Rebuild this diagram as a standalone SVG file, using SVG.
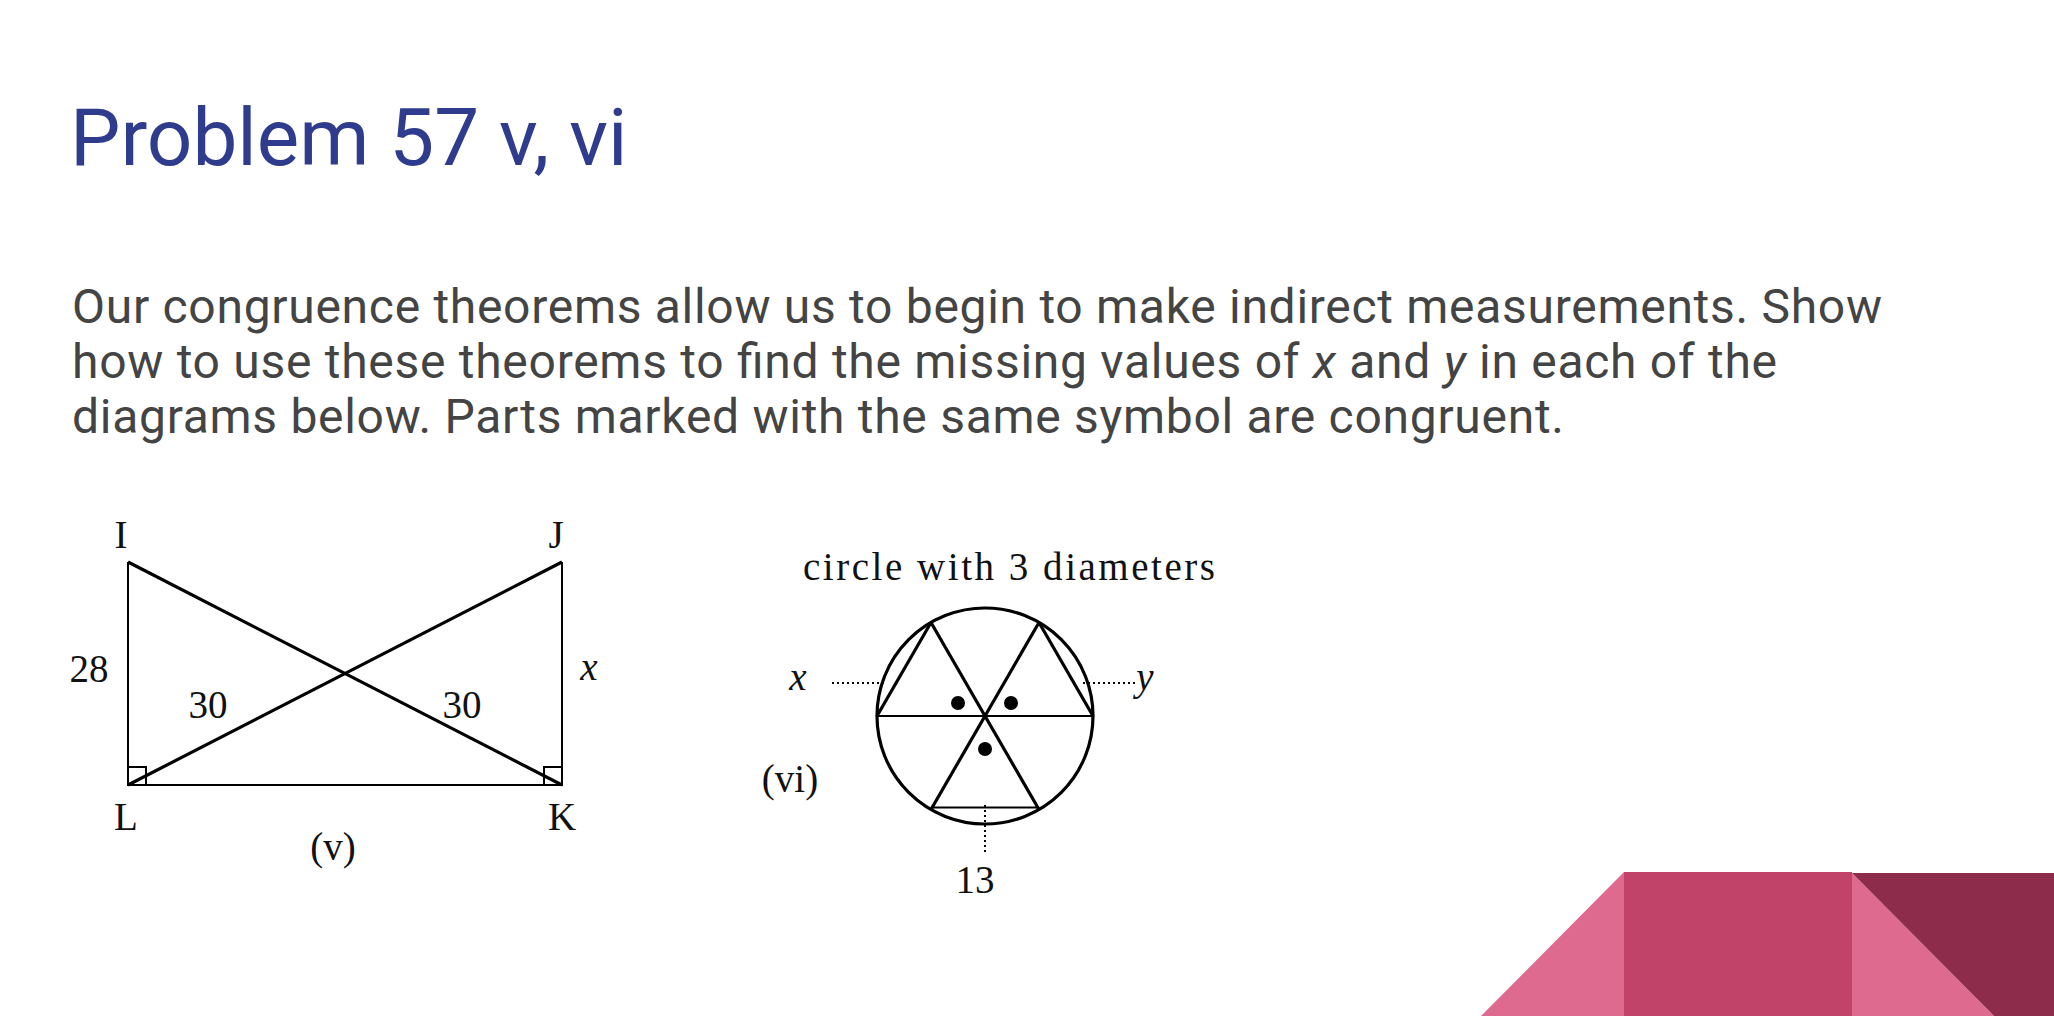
<svg xmlns="http://www.w3.org/2000/svg" width="2054" height="1016" viewBox="0 0 2054 1016">
<style>
.title{font-family:Roboto,"Liberation Sans",sans-serif;font-size:80px;fill:#2F3C8E}
.body{font-family:Roboto,"Liberation Sans",sans-serif;font-size:48px;fill:#444444}
.lbl{font-family:"Liberation Serif","DejaVu Serif",serif;font-size:39px;fill:#111111;text-anchor:middle}
.it{font-style:italic}
.thin{stroke:#000;stroke-width:2;fill:none}
.thick{stroke:#000;stroke-width:3.2;fill:none}
.dot{stroke:#000;stroke-width:2;stroke-dasharray:2 3;fill:none}
</style>
<rect width="2054" height="1016" fill="#ffffff"/>
<g id="title"><text class="title" x="70" y="165">Problem 57 v, vi</text></g>
<g id="body">
<text class="body" x="72" y="323" textLength="1810" lengthAdjust="spacing">Our congruence theorems allow us to begin to make indirect measurements. Show</text>
<text class="body" x="72" y="378" textLength="1705" lengthAdjust="spacing">how to use these theorems to find the missing values of <tspan font-style="italic">x</tspan> and <tspan font-style="italic">y</tspan> in each of the</text>
<text class="body" x="72" y="433" textLength="1492" lengthAdjust="spacing">diagrams below. Parts marked with the same symbol are congruent.</text>
</g>
<g id="figure-v">
<path class="thin" d="M128 562 V785 H562 V562"/>
<path class="thin" d="M128 767 H146 V785 M562 767 H544 V785"/>
<line class="thick" x1="128" y1="562" x2="562" y2="785"/>
<line class="thick" x1="562" y1="562" x2="128" y2="785"/>
<text class="lbl" x="121" y="548">I</text>
<text class="lbl" x="556" y="548">J</text>
<text class="lbl" x="126" y="830">L</text>
<text class="lbl" x="562" y="830">K</text>
<text class="lbl" x="89" y="682">28</text>
<text class="lbl it" x="589" y="680">x</text>
<text class="lbl" x="208" y="718">30</text>
<text class="lbl" x="462" y="718">30</text>
<text class="lbl" x="333" y="860">(v)</text>
</g>
<g id="figure-vi">
<text class="lbl" x="1009" y="580" textLength="412" lengthAdjust="spacing">circle with 3 diameters</text>
<circle class="thick" cx="985" cy="716" r="108"/>
<line class="thin" x1="877" y1="716" x2="1093" y2="716"/>
<line class="thick" x1="931" y1="622.5" x2="1039" y2="809.5"/>
<line class="thick" x1="1039" y1="622.5" x2="931" y2="809.5"/>
<line class="thick" x1="931" y1="622.5" x2="877" y2="716"/>
<line class="thick" x1="1039" y1="622.5" x2="1093" y2="716"/>
<line class="thin" x1="931" y1="807.5" x2="1039" y2="807.5"/>
<circle cx="958" cy="703" r="7"/>
<circle cx="1011" cy="703" r="7"/>
<circle cx="985" cy="749" r="7"/>
<line class="dot" x1="832" y1="683" x2="887" y2="683"/>
<line class="dot" x1="1083" y1="683" x2="1135" y2="683"/>
<line class="dot" x1="985" y1="805" x2="985" y2="852"/>
<text class="lbl it" x="798" y="690">x</text>
<text class="lbl it" x="1145" y="690">y</text>
<text class="lbl" x="975" y="893">13</text>
<text class="lbl" x="790" y="792">(vi)</text>
</g>
<g id="decor">
<polygon points="1481,1016 1624,872 1624,1016" fill="#DF6A8F"/>
<rect x="1624" y="872" width="228" height="144" fill="#C14369"/>
<polygon points="1852,873 1994,1016 1852,1016" fill="#DF6A8F"/>
<polygon points="1852,873 2054,873 2054,1016 1994,1016" fill="#8E2C4C"/>
</g>
</svg>
